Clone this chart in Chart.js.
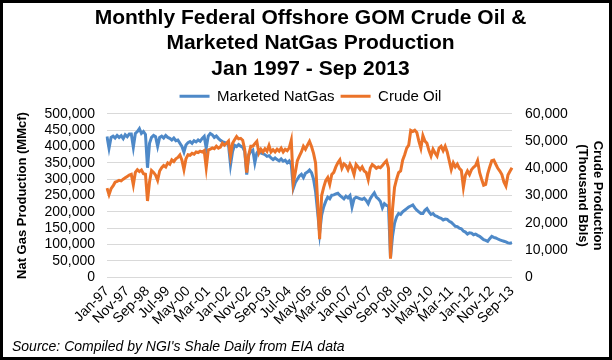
<!DOCTYPE html>
<html>
<head>
<meta charset="utf-8">
<script src="https://cdn.jsdelivr.net/npm/chart.js@4"></script>
<style>
  html, body { margin: 0; padding: 0; background: #fff; }
</style>
</head>
<body>
<canvas id="myChart" width="612" height="360"></canvas>
<script>
// monthly categories Jan-97 .. Sep-13
const MONTHS = ['Jan','Feb','Mar','Apr','May','Jun','Jul','Aug','Sep','Oct','Nov','Dec'];
const labels = [];
for (let y = 1997; y <= 2013; y++) {
  for (let m = 0; m < 12; m++) {
    if (y === 2013 && m > 8) break;
    labels.push(MONTHS[m] + '-' + String(y).slice(2));
  }
}

// Marketed NatGas, MMcf (thousands)
const natGas = [
  431, 395, 428, 432, 426, 434, 428, 433, 424, 436, 430, 438, // 1997
  438, 398, 440, 446, 455, 440, 446, 437, 335, 410, 428, 434, // 1998
  430, 401, 428, 432, 426, 434, 428, 425, 420, 426, 418, 420, // 1999
  410, 400, 383, 405, 412, 415, 410, 418, 414, 420, 416, 425, // 2000
  431, 395, 432, 440, 436, 428, 432, 425, 419, 415, 413, 410, // 2001
  405, 344, 385, 404, 400, 406, 401, 398, 385, 314, 375, 385, // 2002
  389, 350, 380, 389, 380, 378, 375, 370, 372, 365, 360, 365, // 2003
  360, 356, 362, 355, 358, 350, 356, 345, 272, 290, 300, 310, // 2004
  315, 305, 318, 322, 328, 320, 300, 262, 200, 135, 190, 215, // 2005
  232, 245, 240, 251, 252, 255, 257, 250, 245, 240, 248, 243, // 2006
  250, 215, 240, 245, 243, 240, 238, 242, 235, 225, 240, 250, // 2007
  258, 245, 240, 232, 212, 225, 220, 218, 60, 125, 165, 185,  // 2008
  195, 192, 200, 205, 210, 215, 218, 221, 212, 205, 200, 195, // 2009
  195, 205, 210, 200, 192, 195, 188, 186, 182, 180, 175, 178, // 2010
  177, 171, 168, 162, 156, 155, 150, 148, 141, 138, 132, 136, // 2011
  135, 130, 132, 128, 125, 120, 115, 113, 110, 118, 125, 122, // 2012
  120, 117, 114, 112, 110, 108, 105, 104, 106                 // 2013
].map(v => v * 1000);

// Crude Oil, thousand bbls
const crudeOil = [
  32.7, 30.3, 32.5, 33.5, 34.9, 35.2, 35.6, 35.4, 36.0, 36.5, 37.0, 37.5, // 1997
  37.8, 33.9, 38.5, 39.5, 38.8, 39.4, 38.0, 37.8, 28.0, 35.0, 39.2, 38.5, // 1998
  37.5, 35.6, 39.0, 40.2, 41.0, 40.5, 42.0, 41.5, 43.1, 42.5, 43.5, 44.0, // 1999
  44.9, 43.0, 39.5, 43.5, 45.0, 44.8, 45.5, 45.2, 46.0, 45.8, 46.3, 46.0, // 2000
  46.5, 40.2, 46.7, 47.0, 47.5, 47.2, 48.1, 47.4, 47.8, 49.2, 48.5, 49.2, // 2001
  50.0, 44.5, 49.2, 50.5, 51.7, 50.8, 51.0, 50.3, 47.0, 38.4, 45.0, 48.1, // 2002
  48.1, 49.0, 49.9, 45.6, 47.0, 46.0, 47.2, 46.3, 48.4, 46.0, 46.8, 46.0, // 2003
  47.0, 46.3, 47.4, 46.0, 47.0, 46.5, 47.5, 50.3, 34.5, 38.5, 42.8, 44.5, // 2004
  46.0, 48.1, 47.0, 48.5, 49.9, 48.0, 45.5, 42.0, 28.0, 14.0, 30.0, 33.0, // 2005
  35.5, 36.6, 34.1, 37.7, 38.5, 40.5, 42.0, 43.1, 40.0, 41.6, 41.0, 39.5, // 2006
  41.5, 40.0, 37.7, 41.4, 40.5, 39.5, 40.5, 39.0, 38.5, 35.8, 40.0, 41.4, // 2007
  40.8, 40.0, 40.5, 40.2, 41.0, 42.0, 42.8, 40.0, 6.8, 25.0, 33.0, 36.0,  // 2008
  38.4, 39.0, 43.0, 45.0, 47.4, 48.5, 53.9, 53.5, 54.0, 53.2, 50.0, 47.4, // 2009
  52.0, 50.0, 49.2, 46.5, 44.5, 47.0, 45.6, 44.5, 47.4, 48.1, 46.5, 48.1, // 2010
  46.0, 42.8, 39.5, 42.0, 40.5, 41.5, 40.0, 39.2, 33.0, 37.5, 39.0, 37.7, // 2011
  39.5, 40.4, 41.0, 42.8, 38.5, 36.0, 33.8, 34.1, 38.0, 40.5, 42.8, 43.0, // 2012
  41.5, 40.0, 39.0, 37.7, 35.0, 33.5, 37.5, 38.9, 40.2                    // 2013
].map(v => v * 1000);

const FONT = "'Liberation Sans', Arial, sans-serif";
Chart.defaults.font.family = FONT;
Chart.defaults.color = '#000';

const frame = {
  id: 'frame',
  beforeDraw(chart) {
    const c = chart.ctx;
    c.save();
    c.fillStyle = '#fff';
    c.fillRect(0, 0, chart.width, chart.height);
    c.restore();
  },
  afterDraw(chart) {
    const c = chart.ctx;
    c.save();
    c.strokeStyle = '#000';
    c.lineWidth = 3;
    c.strokeRect(1.5, 1.5, chart.width - 3, chart.height - 3);
    c.restore();
  }
};

const fmt = v => v.toLocaleString('en-US');

const config = {
  type: 'line',
  data: {
    labels: labels,
    datasets: [{
      label: 'Marketed NatGas',
      data: natGas,
      yAxisID: 'y',
      borderColor: '#4E89C8',
      backgroundColor: '#4E89C8',
      borderWidth: 3,
      pointRadius: 0,
      tension: 0,
      order: 2
    }, {
      label: 'Crude Oil',
      data: crudeOil,
      yAxisID: 'y2',
      borderColor: '#EB7329',
      backgroundColor: '#EB7329',
      borderWidth: 3,
      pointRadius: 0,
      tension: 0,
      order: 1
    }]
  },
  options: {
    responsive: false,
    animation: false,
    layout: { padding: { top: 3, left: 12, right: 3, bottom: 3 } },
    plugins: {
      title: {
        display: true,
        text: ['Monthly Federal Offshore GOM Crude Oil &', 'Marketed NatGas Production', 'Jan 1997 - Sep 2013'],
        font: { size: 21, weight: 'bold', lineHeight: 1.22 },
        padding: { top: 2, bottom: 1 }
      },
      subtitle: {
        display: true,
        position: 'bottom',
        align: 'start',
        text: "Source: Compiled by NGI's Shale Daily from EIA data",
        font: { size: 14, style: 'italic' },
        padding: { top: 0, bottom: 1 }
      },
      legend: {
        position: 'top',
        labels: {
          usePointStyle: true,
          pointStyle: 'line',
          pointStyleWidth: 30,
          font: { size: 15 },
          padding: 6,
          sort: (a, b) => a.datasetIndex - b.datasetIndex
        }
      },
      tooltip: { enabled: false }
    },
    scales: {
      x: {
        grid: { display: false, drawTicks: false },
        border: { display: false },
        ticks: {
          autoSkip: false,
          maxRotation: 45,
          minRotation: 45,
          padding: 6,
          font: { size: 14 },
          callback: function (val, i) {
            return i % 10 === 0 ? this.getLabelForValue(val) : null;
          }
        },
        afterFit(scale) { scale.height = 62; }
      },
      y: {
        position: 'left',
        min: 0,
        max: 500000,
        grid: { color: '#D9D9D9', lineWidth: 1, drawTicks: false },
        border: { display: false },
        ticks: { stepSize: 50000, autoSkip: false, padding: 12, font: { size: 14 }, callback: fmt },
        title: {
          display: true,
          text: 'Nat Gas Production (MMcf)',
          font: { size: 13, weight: 'bold' },
          padding: { top: 2.5, bottom: 0 }
        },
        afterFit(scale) { scale.width = 95; }
      },
      y2: {
        position: 'right',
        min: 0,
        max: 60000,
        grid: { display: false, drawTicks: false },
        border: { display: false },
        ticks: { stepSize: 10000, autoSkip: false, padding: 13, font: { size: 14 }, callback: fmt },
        title: {
          display: true,
          text: ['Crude Production', '(Thousand Bbls)'],
          font: { size: 13, weight: 'bold', lineHeight: 1.15 },
          padding: { top: 3.5, bottom: 0 }
        },
        afterFit(scale) { scale.width = 97; }
      }
    }
  },
  plugins: [frame]
};

new Chart(document.getElementById('myChart'), config);
</script>
</body>
</html>
